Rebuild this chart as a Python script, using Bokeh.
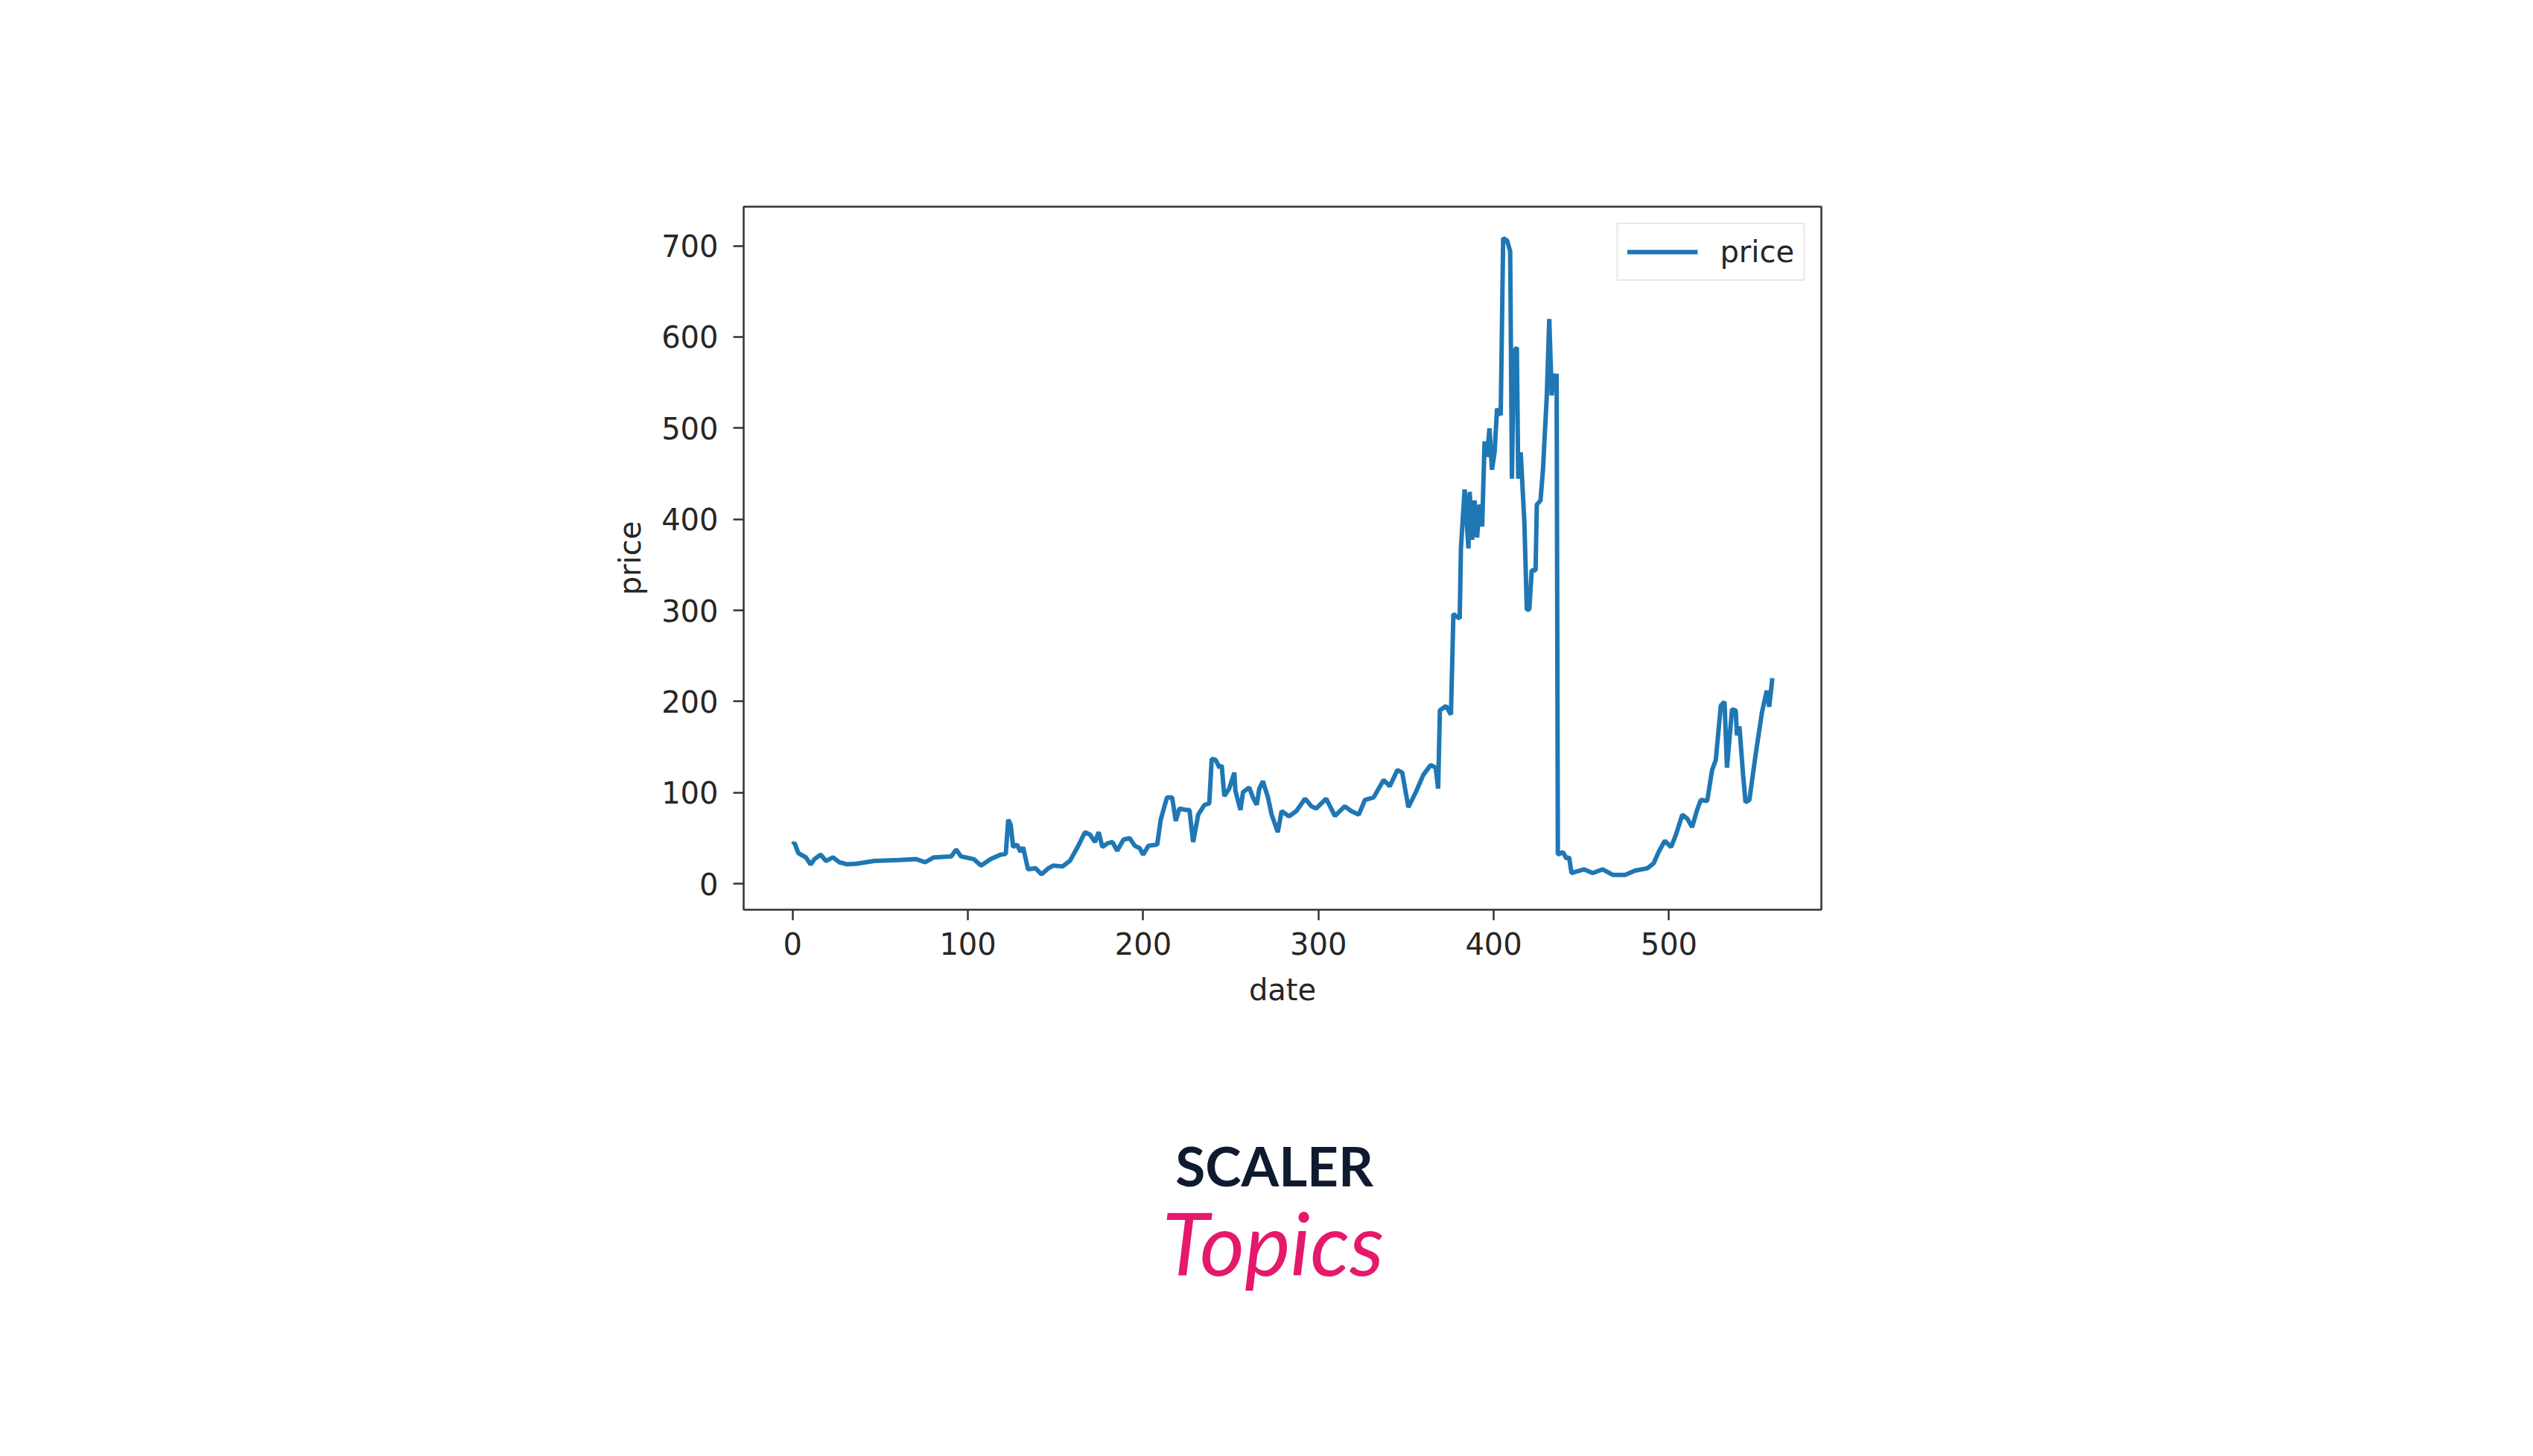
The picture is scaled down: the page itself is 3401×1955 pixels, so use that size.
from bokeh.plotting import figure
from bokeh.layouts import column
from bokeh.models import Range1d, FixedTicker
from bokeh.core.properties import value
from bokeh.embed import file_html
from bokeh.resources import INLINE

# values (vertex positions of the price line)
date = [0, 1, 3.3, 7.5, 10.3, 12.4, 16, 19, 23, 26.6, 30.9, 36.5, 46.5, 60.7, 70.6, 75.6,
        80.6, 90.5, 93.3, 96, 103.3, 107.5, 113, 118.7, 121.6, 123, 124.4, 125.8, 128, 130,
        131.5, 134.3, 138.6, 142, 145.6,
        148.6, 154, 158.3, 162.6, 166.8, 169.6, 172.5, 174.6, 176.7, 179.6, 182.4, 185.2,
        188.8, 192.3, 195.2, 198, 200, 203, 208, 210, 213.6, 216.5, 218.6, 220.7, 224.3,
        226.4, 228.5, 231.4, 235, 237.7, 239.1, 241.3, 243.5, 244.8, 246.3, 249, 252, 252.6,
        255.5, 257, 260.5, 262.6, 264.8, 266.2, 268.3, 271.2, 273.3, 276.8, 279, 283.2,
        287.4, 292.4, 296,
        298.7, 304.4, 309.4, 315, 318.7, 323, 326.5, 331.5, 337.2, 340.7, 345, 347.8, 351.3,
        355.6, 359.8, 364, 366.9, 368.3,
        369.3, 372.8, 375.6, 377, 380.6, 381.3, 383.4, 385.6, 386.3, 387.7, 389.1, 390.5,
        392, 393.4, 394.8, 396.2, 397.6, 399, 400.5, 401.9, 404, 405.4, 407.6, 409.4, 410.4,
        411.5, 413.2, 414, 415.4, 417.5, 418.9, 420.3, 421.7, 423.9, 424.6, 426.7, 428.1,
        430.3, 431.7, 433.1, 433.8, 435.2, 435.9, 436.6, 439.5, 441.6, 443, 444.4,
        446.6, 451.5, 456.5, 462.2, 467.9, 475, 480.6, 487.7, 491.3, 494.1, 497.6, 501.2,
        504, 507.6, 510.4, 513.2, 516.1, 518.2, 521.8, 524.6, 526.7, 529.6, 531.7, 533.1,
        536, 538.1, 538.8, 540.2, 542.3, 543.7, 545.9, 549.4, 553, 555.8, 557.2, 559]
price = [43, 45, 33.5, 29, 21, 27, 32, 25, 29, 23.6, 21.4, 22, 25, 26, 27, 23.6,
         29, 30, 37.6, 30, 27, 19.9, 27, 32, 32.7, 70.3, 64.8, 40.3, 43, 35,
         40, 15.8, 17, 10.4, 16.5,
         19.9, 19, 25.3, 40.3, 56.6, 54, 45.8, 56.6, 40.3, 44.4, 45.8, 36.2,
         48.5, 50, 41.7, 39, 32, 41.7, 43, 70.3, 94.8, 94.8, 69, 82.6, 81,
         81, 45.8, 75.8, 86.6, 88, 137, 136, 127.5, 130, 96.2, 104, 122, 102,
         81, 100.6, 105.7, 94.8, 86.6, 104, 112.5, 94.8, 75.8, 56.6, 79.8, 74,
         79.8, 93.4, 85,
         82.6, 93.4, 74.4, 85, 79.8, 75.8, 92, 94.8, 113.9, 107, 124.8, 122, 84,
         100.6, 119.3, 130.2, 127.5, 104.4,
         190.4, 195, 185.6, 296, 291, 368, 432.7, 368, 430, 377.5, 420.6, 380,
         416, 392, 485.4, 468.6, 499.8, 454.2, 473.4, 521.4, 514.2, 708.4, 706, 694, 444.6,
         583.7, 588.5, 444.6, 473.4, 396.7, 300.8, 300.8, 344, 344, 416, 420.6, 454.2,
         535.8, 619.7, 535.8, 559.7, 540.6, 559.7, 32, 34.6, 27.4, 29.4, 11.7,
         13, 15.8, 11.7, 15.8, 9.8, 9.8, 14.4, 17, 22.6, 34.8, 47.1, 40.3,
         53.9, 75.7, 71.6, 62.1, 81.2, 92.1, 90.7, 124.8, 135.7, 195.6, 199.7, 127.5,
         191.5, 190, 162.9, 172.5, 119.3, 89.3, 92.1, 141.1, 187.5, 211.9, 194.2, 225.6]
x_ticks = [0, 100, 200, 300, 400, 500]
y_ticks = [0, 100, 200, 300, 400, 500, 600, 700]
series_name = "price"
x_label = "date"
y_label = "price"
logo_top = "SCALER"
logo_bottom = "Topics"

FONT = "DejaVu Sans"
TXT = "#262626"

p = figure(width=3385, height=1450, output_backend="svg", toolbar_location=None,
           x_range=Range1d(-27.95, 586.95), y_range=Range1d(-28.5, 743),
           min_border_left=998, min_border_top=277, min_border_right=940,
           min_border_bottom=229)

p.line(date, price, line_color="#1f77b4", line_width=6, legend_label=series_name)

p.grid.visible = False
p.outline_line_color = "#333333"
p.outline_line_width = 2.5
p.background_fill_color = "white"
p.border_fill_color = "white"

p.xaxis.ticker = FixedTicker(ticks=x_ticks)
p.yaxis.ticker = FixedTicker(ticks=y_ticks)
for ax in (p.xaxis[0], p.yaxis[0]):
    ax.axis_line_color = None
    ax.major_tick_line_color = "#333333"
    ax.major_tick_line_width = 2.5
    ax.major_tick_out = 14
    ax.major_tick_in = 0
    ax.minor_tick_line_color = None
    ax.major_label_text_font = FONT
    ax.major_label_text_font_size = "40px"
    ax.major_label_text_color = TXT
    ax.axis_label_text_font = FONT
    ax.axis_label_text_font_size = "40px"
    ax.axis_label_text_font_style = "normal"
    ax.axis_label_text_color = TXT

p.xaxis.axis_label = x_label
p.yaxis.axis_label = y_label
p.xaxis.major_label_standoff = 16
p.yaxis.major_label_standoff = 20
p.xaxis.axis_label_standoff = 21
p.yaxis.axis_label_standoff = 16

lg = p.legend[0]
lg.location = "top_right"
lg.margin = 22
lg.padding = 12
lg.spacing = 0
lg.glyph_width = 95
lg.glyph_height = 50
lg.label_height = 50
lg.label_standoff = 30
lg.label_text_font = FONT
lg.label_text_font_size = "40px"
lg.label_text_color = TXT
lg.border_line_color = "#d0d0d0"
lg.border_line_width = 2
lg.background_fill_color = "white"
lg.background_fill_alpha = 0.8

# logo area below the chart
logo = figure(width=3385, height=420, output_backend="svg", toolbar_location=None,
              x_range=Range1d(0, 3385), y_range=Range1d(0, 420),
              x_axis_type=None, y_axis_type=None, min_border=0)
logo.grid.visible = False
logo.outline_line_color = None
logo.text(x=[1667], y=[306], text=[logo_top], text_font=value("Lato"),
          text_font_style="bold", text_font_size="73px", text_color="#0f1a2e",
          text_align="center", text_baseline="alphabetic")
logo.text(x=[1663], y=[202], text=[logo_bottom], text_font=value("Lato"),
          text_font_style="italic", text_font_size="116px", text_color="#e5186c",
          text_align="center", text_baseline="alphabetic")

open("out.html", "w").write(file_html(column(p, logo, spacing=0), INLINE))
